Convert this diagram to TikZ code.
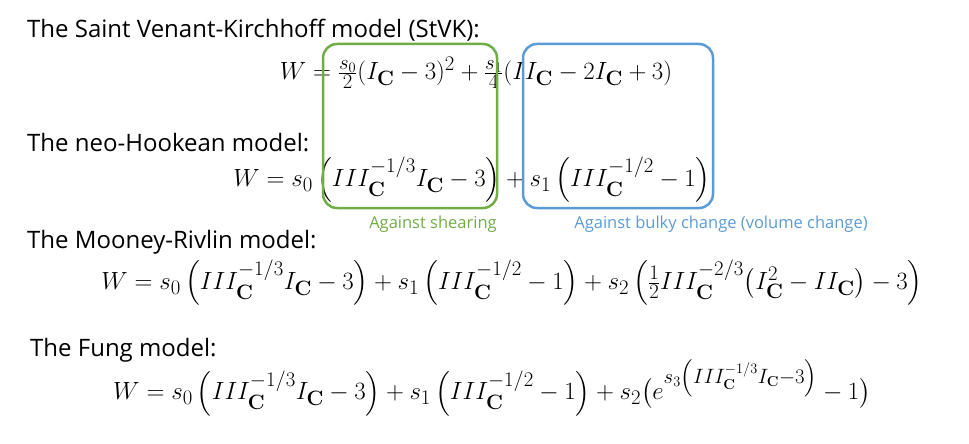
\documentclass[tikz,border=0pt]{standalone}
\usepackage{amsmath}
\usepackage[no-math]{fontspec}
\setmainfont{Open Sans}
\definecolor{gr}{RGB}{112,173,71}
\definecolor{bl}{RGB}{91,155,213}
\newcommand{\IC}{I_{\mathbf{C}}}
\newcommand{\IIIC}[1]{III_{\mathbf{C}}^{#1}}
\begin{document}
\begin{tikzpicture}[x=1pt,y=-1pt,
  ttl/.style={anchor=west,font=\fontsize{24}{28}\selectfont,inner sep=0},
  eq/.style={font=\fontsize{28}{32}\selectfont,inner sep=0},
  lbl/.style={font=\fontsize{16.5}{20}\selectfont,inner sep=0},
  box/.style={draw,line width=2.5pt,rounded corners=14pt}]
\useasboundingbox (0,0) rectangle (969,444);
\node[ttl] (t1) at (27,30) {The Saint Venant-Kirchhoff model (StVK):};
\node[eq,font=\fontsize{31}{34}\selectfont] (e1) at (476,73) {$W=\frac{s_0}{2}(\IC-3)^2+\frac{s_1}{4}(II_{\mathbf C}-2\IC+3)$};
\node[ttl] (t2) at (27,143) {The neo-Hookean model:};
\node[eq] (e2) at (472,180) {$W=s_0\left(\IIIC{-1/3}\IC-3\right)+s_1\left(\IIIC{-1/2}-1\right)$};
\draw[box,gr] (323,44) rectangle (497,208);
\draw[box,bl] (523,44) rectangle (713,208);
\node[lbl,gr] (l1) at (433,224) {Against shearing};
\node[lbl,bl] (l2) at (721,224) {Against bulky change (volume change)};
\node[ttl] (t3) at (27,242) {The Mooney-Rivlin model:};
\node[eq] (e3) at (512,283) {$W=s_0\left(\IIIC{-1/3}\IC-3\right)+s_1\left(\IIIC{-1/2}-1\right)+s_2\left(\tfrac12\IIIC{-2/3}\bigl(\IC^2-II_{\mathbf C}\bigr)-3\right)$};
\node[ttl] (t4) at (30,350) {The Fung model:};
\node[eq] (e4) at (492,388) {$W=s_0\left(\IIIC{-1/3}\IC-3\right)+s_1\left(\IIIC{-1/2}-1\right)+s_2\bigl(e^{s_3\left(\IIIC{-1/3}\IC-3\right)}-1\bigr)$};
\end{tikzpicture}
\end{document}
